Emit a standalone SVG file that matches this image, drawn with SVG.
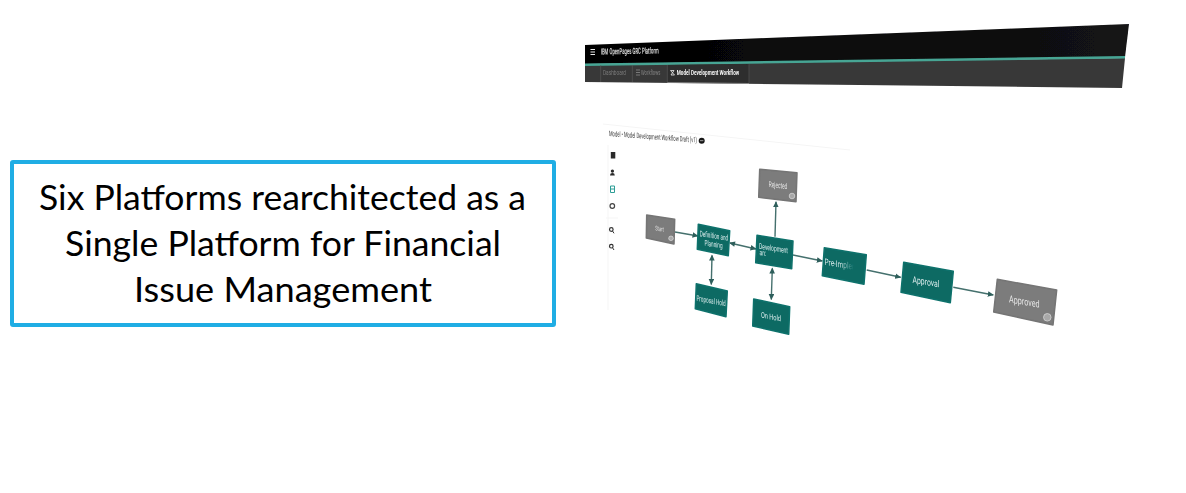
<svg xmlns="http://www.w3.org/2000/svg" width="1186" height="493" viewBox="0 0 1186 493">
<style>
text{font-family:"Roboto","Liberation Sans",sans-serif}
.title{font-family:"Lato","Liberation Sans",sans-serif;font-size:35.5px;fill:#000;text-anchor:middle}
.teal{fill:#0a6a64;stroke:#0f726c;stroke-width:1.500;stroke-linejoin:round}
.grey{fill:#7b7b7b;stroke:#757575;stroke-width:1.500;stroke-linejoin:round}
.lbl{fill:#dcebea;font-size:8px;text-anchor:middle}
.lblg{fill:#e6e6e6;font-size:8px;text-anchor:middle}
.con{fill:none;stroke:#44706d;stroke-width:1.400;marker-end:url(#arr)}
.two{marker-start:url(#arrs)}
.ico{fill:#2a2a2a}
.badge{fill:#a8a8a8;stroke:#ddd;stroke-width:.7}
.soft{filter:url(#soft)}
</style>
<defs>
<filter id="soft" x="-5%" y="-5%" width="110%" height="110%"><feGaussianBlur stdDeviation="0.45"/></filter>
<marker id="arr" markerWidth="7" markerHeight="6" refX="5.500" refY="3" orient="auto" markerUnits="userSpaceOnUse"><path d="M0,0.200L6,3L0,5.800z" fill="#2f5f5b"/></marker>
<marker id="arrs" markerWidth="7" markerHeight="6" refX="1" refY="3" orient="auto" markerUnits="userSpaceOnUse"><path d="M6,0.200L0,3L6,5.800z" fill="#2f5f5b"/></marker>
<linearGradient id="fade" gradientUnits="userSpaceOnUse" x1="-18" x2="18" y1="0" y2="0"><stop offset=".45" stop-color="#dcebea"/><stop offset="1" stop-color="#0a6a64"/></linearGradient>
<linearGradient id="topbar" gradientUnits="userSpaceOnUse" x1="585" x2="1129" y1="0" y2="0"><stop offset="0" stop-color="#020202"/><stop offset="1" stop-color="#131314"/></linearGradient>
</defs>

<g id="title-box">
<rect x="12" y="162" width="542" height="163" fill="#fff" stroke="#1fade4" stroke-width="4" rx="1"/>
<text class="title" x="282.500" y="210" textLength="487" lengthAdjust="spacingAndGlyphs">Six Platforms rearchitected as a</text>
<text class="title" x="283" y="256" textLength="436" lengthAdjust="spacingAndGlyphs">Single Platform for Financial</text>
<text class="title" x="283" y="302" textLength="298" lengthAdjust="spacingAndGlyphs">Issue Management</text>
</g>

<g id="header" class="soft">
<polygon points="585,45 1129,24 1125,57 585,64" fill="url(#topbar)"/>
<polygon points="585,65 1125,58 1122,88 860,85 585,82" fill="#373737"/>
<polygon points="585,63.500 1125,56 1125,58.500 585,66" fill="#46a594"/>
<polygon points="667.300,65 749,64 749,83.500 667.300,82.500" fill="#2d2d2d"/>
<path d="M600.700,65V82M632.300,65V82M667.300,65V82.500M749,64V83" stroke="#5c5c5c" stroke-width=".6" fill="none"/>
<path d="M667.300,82.500L749,83.500" stroke="#999" stroke-width=".8" fill="none"/>
<path d="M590.500,49.500H595M590.500,52H595M590.500,54.500H595" stroke="#e8e8e8" stroke-width="1" fill="none"/>
<text x="600.700" y="54.500" font-size="8.500" font-weight="500" fill="#e6e6e6" textLength="58" lengthAdjust="spacingAndGlyphs" transform="rotate(-1 600 54)">IBM OpenPages GRC Platform</text>
<text x="603" y="75" font-size="7.500" fill="#7c7c7c" textLength="23" lengthAdjust="spacingAndGlyphs">Dashboard</text>
<path d="M636,70H640M636,72.500H640M636,75H640" stroke="#8a8a8a" stroke-width=".8" fill="none"/>
<text x="641" y="75" font-size="7.500" fill="#858585" textLength="19.500" lengthAdjust="spacingAndGlyphs">Workflows</text>
<path d="M670.500,70.500H674L671,75H674.500z" fill="none" stroke="#eee" stroke-width=".8"/>
<text x="676.700" y="74.800" font-size="7.500" font-weight="700" fill="#f6f6f6" textLength="62.500" lengthAdjust="spacingAndGlyphs">Model Development Workflow</text>
</g>

<g id="canvas" class="soft">
<path d="M603,124L850,150M608,145V310M606,218H618" stroke="#f5f5f5" stroke-width="1" fill="none"/>
<text x="0" y="0" font-size="7.500" fill="#3a3a3a" textLength="88" lengthAdjust="spacingAndGlyphs" transform="translate(609 136) skewY(4.300)">Model • Model Development Workflow  Draft  (v1)</text>
<circle cx="701.700" cy="140.700" r="3" fill="#151515"/>
<path d="M700,140.700H703.400" stroke="#ddd" stroke-width=".7"/>
<rect class="ico" x="610.800" y="152" width="4.500" height="6.500"/>
<path class="ico" d="M610,175.500a2.400,2.400 0 0 1 4.800,0zM612.400,169.500a1.600,1.600 0 1 0 .01,0z"/>
<path d="M610.500,186H614.500V192.500H610.500zM610.500,189H614.500" fill="none" stroke="#2e9d96" stroke-width="1"/>
<circle cx="612.300" cy="206" r="2.300" fill="none" stroke="#444" stroke-width="1.200"/>
<circle cx="611.300" cy="229.500" r="1.800" fill="none" stroke="#333" stroke-width="1.200"/>
<path d="M612.500,231L614,233.300" stroke="#333" stroke-width="1"/>
<circle cx="611.300" cy="246.200" r="1.800" fill="none" stroke="#333" stroke-width="1.200"/>
<path d="M612.500,247.700L614,250" stroke="#333" stroke-width="1"/>
</g>

<g id="connectors" class="soft">
<path class="con" d="M675,232L698,236"/>
<path class="con two" d="M730,243L756,249"/>
<path class="con" d="M775,236.700L776,201.700"/>
<path class="con two" d="M712,255.500L711.300,284.500"/>
<path class="con two" d="M772.300,268.500L771.300,299.500"/>
<path class="con" d="M793,255L822.300,261"/>
<path class="con" d="M866.700,270L900.700,277.300"/>
<path class="con" d="M953.300,287.300L993.300,295"/>
</g>

<g id="node-start" class="soft">
<polygon class="grey" points="646.700,215 674.700,219.300 674,244 646.300,238"/>
<text class="lblg" style="font-size:6.500px" transform="translate(659.500 231) skewY(9) scale(.6 1)">Start</text>
<circle class="badge" cx="671" cy="238.300" r="2.300"/>
</g>
<g id="node-definition" class="soft">
<polygon class="teal" points="698.300,224.300 729.700,230.700 728.300,255.700 697.300,249.300"/>
<text class="lbl" transform="translate(714 238.500) skewY(9) scale(.58 1)">Definition and</text>
<text class="lbl" transform="translate(713.500 247) skewY(9) scale(.58 1)">Planning</text>
</g>
<g id="node-development" class="soft">
<polygon class="teal" points="757,235.300 793,241 791.700,268.700 755.700,262.700"/>
<text class="lbl" transform="translate(773.500 251) skewY(9) scale(.62 1)">Development</text>
<text class="lbl" transform="translate(759.500 255) skewY(9) scale(.62 1)" style="text-anchor:start">an:</text>
</g>
<g id="node-rejected" class="soft">
<polygon class="grey" points="759.700,169.300 797,172.700 796,201.700 758.700,197.300"/>
<text class="lblg" transform="translate(778 188) skewY(6) scale(.6 1)">Rejected</text>
<circle class="badge" cx="792" cy="196" r="2.800"/>
</g>
<g id="node-proposal-hold" class="soft">
<polygon class="teal" points="696.300,283.700 727.300,291 726,316.700 695.300,308.700"/>
<text class="lbl" transform="translate(711 303.500) skewY(11) scale(.58 1)">Proposal Hold</text>
</g>
<g id="node-on-hold" class="soft">
<polygon class="teal" points="753.700,299 789.700,306.700 788.700,334.300 752.700,326"/>
<text class="lbl" transform="translate(771 319.500) skewY(11) scale(.7 1)">On Hold</text>
</g>
<g id="node-pre-implementation" class="soft">
<polygon class="teal" points="824.300,247.700 866.300,254.700 864,284.300 822.300,275.700"/>
<text transform="translate(841 267.500) skewY(9) scale(.72 1)" font-size="9" text-anchor="middle" fill="url(#fade)">Pre-Implem</text>
</g>
<g id="node-approval" class="soft">
<polygon class="teal" points="903.700,262.300 953.300,271.300 950.300,302.700 901,292.300"/>
<text class="lbl" style="font-size:9.500px" transform="translate(926 285) skewY(10) scale(.72 1)">Approval</text>
</g>
<g id="node-approved" class="soft">
<polygon class="grey" points="997.300,279.300 1056.700,290 1053,325 993.700,312"/>
<text class="lblg" style="font-size:10px" transform="translate(1024.300 305) skewY(10) scale(.72 1)">Approved</text>
<circle class="badge" cx="1047.300" cy="317.300" r="3.800"/>
</g>
</svg>
